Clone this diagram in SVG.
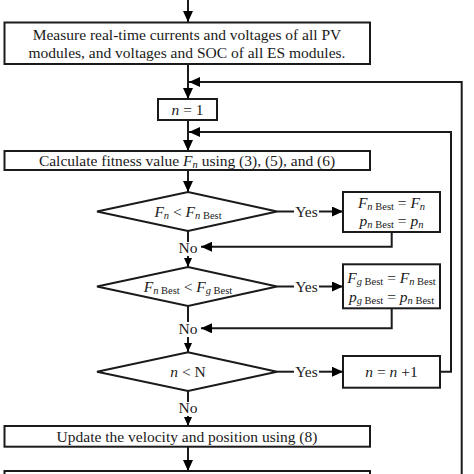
<svg xmlns="http://www.w3.org/2000/svg" width="474" height="474" viewBox="0 0 474 474">
<defs>
<marker id="ah" markerUnits="userSpaceOnUse" markerWidth="12" markerHeight="10" refX="11" refY="5" orient="auto">
<path d="M0,0 L11,5 L0,10 z" fill="#000"/>
</marker>
<marker id="ahs" markerUnits="userSpaceOnUse" markerWidth="10" markerHeight="8" refX="9" refY="4" orient="auto">
<path d="M0,0 L9,4 L0,8 z" fill="#000"/>
</marker>
<style>
.box{fill:#fff;stroke:#1a1a1a;stroke-width:2}
.ln{fill:none;stroke:#1a1a1a;stroke-width:2}
.t{font-family:"Liberation Serif","Times New Roman",serif;font-size:15.5px;fill:#1a1a1a;text-anchor:middle}
.i{font-style:italic}
.s{font-size:10.5px}
</style>
</defs>
<rect width="474" height="474" fill="#fff"/>

<g id="connectors">
<line class="ln" x1="188" y1="0" x2="188" y2="22" marker-end="url(#ah)"/>
<line class="ln" x1="188" y1="64" x2="188" y2="99" marker-end="url(#ah)"/>
<polyline class="ln" points="461.7,474 461.7,82 189,82" marker-end="url(#ah)"/>
<line class="ln" x1="188" y1="120" x2="188" y2="151" marker-end="url(#ah)"/>
<polyline class="ln" points="440,371.7 451,371.7 451,132 189,132" marker-end="url(#ah)"/>
<line class="ln" x1="188" y1="170" x2="188" y2="192" marker-end="url(#ah)"/>
<line class="ln" x1="277" y1="211.5" x2="294" y2="211.5"/>
<line class="ln" x1="319" y1="211.5" x2="343" y2="211.5" marker-end="url(#ah)"/>
<polyline class="ln" points="391.7,232 391.7,246.7 201,246.7" marker-end="url(#ah)"/>
<line class="ln" x1="188" y1="231" x2="188" y2="242"/>
<line class="ln" x1="188" y1="256" x2="188" y2="267" marker-end="url(#ahs)"/>
<line class="ln" x1="277" y1="286.5" x2="294" y2="286.5"/>
<line class="ln" x1="319" y1="286.5" x2="343" y2="286.5" marker-end="url(#ah)"/>
<polyline class="ln" points="391.7,308.3 391.7,328.3 201,328.3" marker-end="url(#ah)"/>
<line class="ln" x1="188" y1="306" x2="188" y2="322"/>
<line class="ln" x1="188" y1="337" x2="188" y2="352" marker-end="url(#ahs)"/>
<line class="ln" x1="277" y1="371.7" x2="294" y2="371.7"/>
<line class="ln" x1="319" y1="371.7" x2="343" y2="371.7" marker-end="url(#ah)"/>
<line class="ln" x1="188" y1="391" x2="188" y2="402"/>
<line class="ln" x1="188" y1="416" x2="188" y2="426" marker-end="url(#ahs)"/>
<line class="ln" x1="188" y1="446.7" x2="188" y2="471" marker-end="url(#ah)"/>
<text class="t" x="306.5" y="216.5">Yes</text>
<text class="t" x="306.5" y="291.5">Yes</text>
<text class="t" x="306.5" y="376.5">Yes</text>
<text class="t" x="188" y="253">No</text>
<text class="t" x="188" y="334">No</text>
<text class="t" x="188" y="413">No</text>
</g>

<g id="measure">
<rect class="box" x="4.5" y="22.5" width="365.5" height="41.5"/>
<text class="t" x="187" y="39.5">Measure real-time currents and voltages of all PV</text>
<text class="t" x="187" y="57.5">modules, and voltages and SOC of all ES modules.</text>
</g>

<g id="n1">
<rect class="box" x="158" y="99" width="59" height="21"/>
<text class="t" x="187.5" y="115"><tspan class="i">n</tspan> = 1</text>
</g>

<g id="calc">
<rect class="box" x="4.5" y="151" width="365.5" height="19"/>
<text class="t" x="187" y="166">Calculate fitness value <tspan class="i">F</tspan><tspan class="i s" dy="2">n</tspan><tspan dy="-2"> using (3), (5), and (6)</tspan></text>
</g>

<g id="dec1">
<polygon class="box" points="97,211.5 188,192 277,211.5 188,231"/>
<text class="t" x="188" y="217"><tspan class="i">F</tspan><tspan class="i s" dy="2">n</tspan><tspan dy="-2"> &lt; </tspan><tspan class="i">F</tspan><tspan class="i s" dy="2">n</tspan><tspan class="s"> Best</tspan></text>
</g>

<g id="upd1">
<rect class="box" x="343" y="192" width="97" height="40"/>
<text class="t" x="391.5" y="208"><tspan class="i">F</tspan><tspan class="i s" dy="2">n</tspan><tspan class="s"> Best</tspan><tspan dy="-2"> = </tspan><tspan class="i">F</tspan><tspan class="i s" dy="2">n</tspan></text>
<text class="t" x="391.5" y="226"><tspan class="i">p</tspan><tspan class="i s" dy="2">n</tspan><tspan class="s"> Best</tspan><tspan dy="-2"> = </tspan><tspan class="i">p</tspan><tspan class="i s" dy="2">n</tspan></text>
</g>

<g id="dec2">
<polygon class="box" points="97,286.5 188,267 277,286.5 188,306"/>
<text class="t" x="188" y="292"><tspan class="i">F</tspan><tspan class="i s" dy="2">n</tspan><tspan class="s"> Best</tspan><tspan dy="-2"> &lt; </tspan><tspan class="i">F</tspan><tspan class="i s" dy="2">g</tspan><tspan class="s"> Best</tspan></text>
</g>

<g id="upd2">
<rect class="box" x="343" y="264.3" width="97" height="44"/>
<text class="t" x="391.5" y="282.5"><tspan class="i">F</tspan><tspan class="i s" dy="2">g</tspan><tspan class="s"> Best</tspan><tspan dy="-2"> = </tspan><tspan class="i">F</tspan><tspan class="i s" dy="2">n</tspan><tspan class="s"> Best</tspan></text>
<text class="t" x="391.5" y="301.5"><tspan class="i">p</tspan><tspan class="i s" dy="2">g</tspan><tspan class="s"> Best</tspan><tspan dy="-2"> = </tspan><tspan class="i">p</tspan><tspan class="i s" dy="2">n</tspan><tspan class="s"> Best</tspan></text>
</g>

<g id="dec3">
<polygon class="box" points="97,371.7 188,352.3 277,371.7 188,391"/>
<text class="t" x="188" y="377"><tspan class="i">n</tspan> &lt; N</text>
</g>

<g id="inc">
<rect class="box" x="343" y="356" width="97" height="31.7"/>
<text class="t" x="391.5" y="377"><tspan class="i">n</tspan> = <tspan class="i">n</tspan> +1</text>
</g>

<g id="update">
<rect class="box" x="4.5" y="426" width="365.5" height="20.7"/>
<text class="t" x="187" y="441.5">Update the velocity and position using (8)</text>
</g>

<g id="next">
<rect class="box" x="4.5" y="471" width="365.5" height="12"/>
</g>
</svg>
